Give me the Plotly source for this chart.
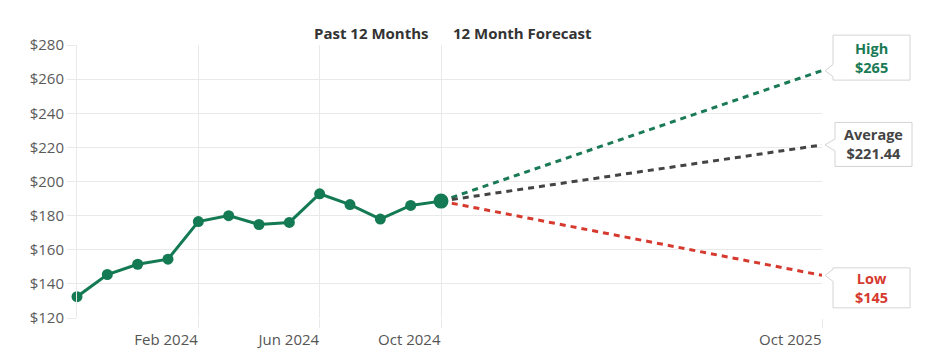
import plotly.graph_objects as go

# ---- data ----
past_months = ["Oct 2023", "Nov 2023", "Dec 2023", "Jan 2024", "Feb 2024", "Mar 2024",
               "Apr 2024", "May 2024", "Jun 2024", "Jul 2024", "Aug 2024", "Sep 2024", "Oct 2024"]
past_prices = [132.5, 145.5, 151.5, 154.5, 176.5, 180.0, 174.8, 176.0, 192.8, 186.5, 178.0, 186.0, 188.5]
past_pos = list(range(len(past_months)))

forecast_end_pos = 24.56          # position of "Oct 2025" on the month axis
forecast_labels = ["High", "Average", "Low"]
forecast_values = [265, 221.44, 145]
forecast_texts = ["$265", "$221.44", "$145"]
forecast_colors = ["#1a7a55", "#444444", "#d63a2f"]

tick_pos = [4, 8, 12, forecast_end_pos]
tick_text = ["Feb 2024", "Jun 2024", "Oct 2024", "Oct 2025"]
y_ticks = [120, 140, 160, 180, 200, 220, 240, 260, 280]
y_tick_text = [f"${v}" for v in y_ticks]
y_min, y_max = 120, 280

line_green = "#137a53"
grid = "#e9e9e9"
font_family = "Open Sans, Noto Sans, sans-serif"

fig = go.Figure()

last_x = past_pos[-1]
last_y = past_prices[-1]

# forecast dashed lines
for lab, val, col in zip(forecast_labels, forecast_values, forecast_colors):
    fig.add_trace(go.Scatter(
        x=[last_x, forecast_end_pos], y=[last_y, val], mode="lines",
        line=dict(color=col, width=3, dash="6px,5px"),
        hoverinfo="skip", showlegend=False, cliponaxis=False))

# past line
sizes = [11] * (len(past_prices) - 1) + [15]
fig.add_trace(go.Scatter(
    x=past_pos, y=past_prices, mode="lines+markers",
    line=dict(color=line_green, width=3),
    marker=dict(color=line_green, size=sizes, opacity=1, line=dict(width=0)),
    showlegend=False, cliponaxis=False))

# callout boxes (box + tail), drawn in pixels relative to each end point
box_specs = {
    "High": (11, 88, 35.5, -9.5),
    "Average": (13, 90, 22.5, -21.5),
    "Low": (11, 88, 7.5, -32.5),
}
for lab, val, col, txt in zip(forecast_labels, forecast_values, forecast_colors, forecast_texts):
    x0, x1, top, bot = box_specs[lab]
    yfrac = (val - y_min) / (y_max - y_min)
    path = (f"M {x0},{top} L {x1},{top} L {x1},{bot} L {x0},{bot} "
            f"L {x0},-6 L 3,0 L {x0},6 Z")
    fig.add_shape(type="path", path=path,
                  xref="paper", yref="paper", xsizemode="pixel", ysizemode="pixel",
                  xanchor=1, yanchor=yfrac,
                  line=dict(color="#d4d4d4", width=1), fillcolor="white",
                  layer="above")
    fig.add_annotation(
        x=1, y=yfrac, xref="paper", yref="paper",
        text=f"<b>{lab}<br>{txt}</b>", showarrow=False,
        xanchor="center", yanchor="middle",
        xshift=(x0 + x1) / 2, yshift=(top + bot) / 2,
        font=dict(color=col, size=14.5, family=font_family),
        align="center")

# section titles
fig.add_annotation(x=last_x, y=1, xref="x", yref="paper", yanchor="bottom",
                   xanchor="right", xshift=-10, yshift=0, showarrow=False,
                   text="<b>Past 12 Months</b>",
                   font=dict(size=15, color="#333333", family=font_family))
fig.add_annotation(x=last_x, y=1, xref="x", yref="paper", yanchor="bottom",
                   xanchor="left", xshift=10, yshift=0, showarrow=False,
                   text="<b>12 Month Forecast</b>",
                   font=dict(size=15, color="#333333", family=font_family))

fig.update_layout(
    width=925, height=363,
    margin=dict(l=69, r=111, t=37, b=53),
    paper_bgcolor="white", plot_bgcolor="white",
    font=dict(family=font_family, color="#555555"),
    xaxis=dict(range=[0, forecast_end_pos], tickvals=tick_pos, ticktext=tick_text,
               showgrid=True, gridcolor=grid, gridwidth=1,
               ticks="outside", ticklen=9, tickcolor=grid,
               ticklabelposition="outside left", ticklabelstandoff=8,
               zeroline=False, showline=False,
               tickfont=dict(size=15, color="#555555")),
    yaxis=dict(range=[y_min, y_max], tickvals=y_ticks, ticktext=y_tick_text,
               showgrid=True, gridcolor=grid, gridwidth=1,
               ticks="outside", ticklen=9, tickcolor=grid,
               zeroline=False, showline=True, linecolor=grid, linewidth=1,
               tickfont=dict(size=15, color="#5a5a5a")),
)

fig.write_html("out.html")
